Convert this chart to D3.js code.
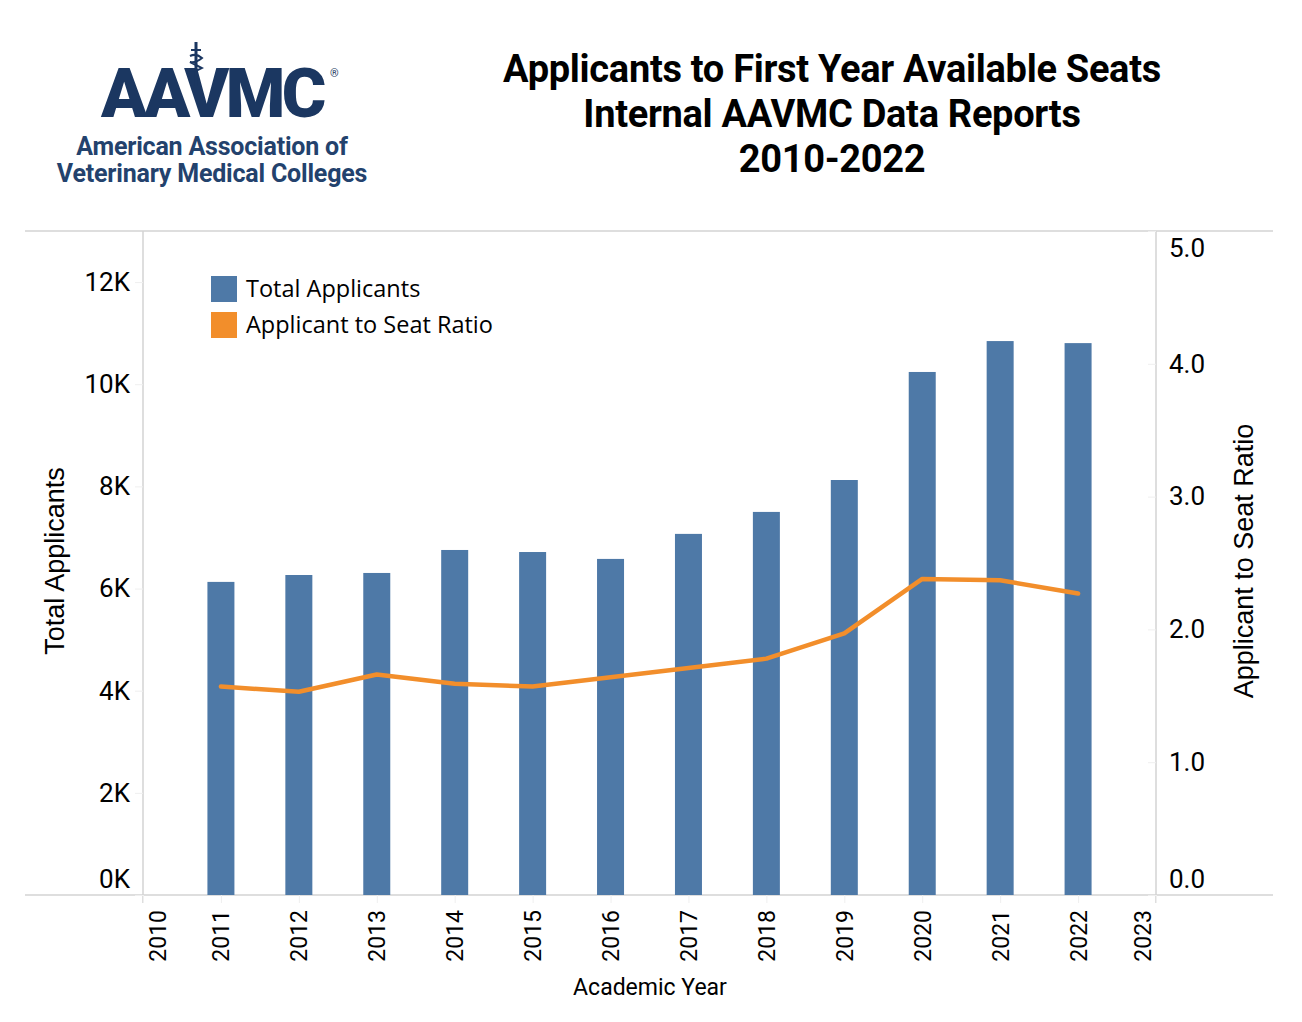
<!DOCTYPE html>
<html lang="en">
<head>
<meta charset="UTF-8">
<script src="https://d3js.org/d3.v7.min.js"></script>
<style>
  body { margin: 0; background: #fff; }
  svg { display: block; }
</style>
</head>
<body>
<div id="chart"></div>
<script>
// data
const years = [2011, 2012, 2013, 2014, 2015, 2016, 2017, 2018, 2019, 2020, 2021, 2022];
const applicants = [6130, 6265, 6305, 6755, 6715, 6580, 7070, 7500, 8125, 10240, 10845, 10805];
const seatRatio = [1.57, 1.53, 1.66, 1.59, 1.57, 1.64, 1.71, 1.78, 1.97, 2.38, 2.37, 2.27];
const leftTicks = [0, 2000, 4000, 6000, 8000, 10000, 12000];
const rightTicks = [0, 1, 2, 3, 4, 5];
const xTicks = d3.range(2010, 2024);
const titleLines = ["Applicants to First Year Available Seats", "Internal AAVMC Data Reports", "2010-2022"];

const W = 1302, H = 1022;
const plot = {left: 143, right: 1156, top: 231, bottom: 895};

const svg = d3.select("#chart").append("svg")
    .attr("width", W).attr("height", H);

// logo
const navy = "#1b3761";
const logo = svg.append("g");
logo.append("text")
    .attr("x", 212).attr("y", 117)
    .attr("text-anchor", "middle")
    .attr("font-family", "Roboto, sans-serif")
    .attr("font-weight", 900)
    .attr("font-size", 68)
    .attr("letter-spacing", -3.5)
    .attr("fill", navy)
    .text("AAVMC");
// staff of the caduceus
logo.append("line")
    .attr("x1", 196).attr("x2", 196).attr("y1", 42).attr("y2", 86)
    .attr("stroke", navy).attr("stroke-width", 3);
logo.append("path")
    .attr("d", "M191,50 h10 M190,56 q6,-3 12,2 q-6,5 -12,4 q6,3 12,6 q-6,4 -12,2")
    .attr("fill", "none").attr("stroke", navy).attr("stroke-width", 2);
logo.append("text")
    .attr("x", 330).attr("y", 77)
    .attr("font-family", "Roboto, sans-serif")
    .attr("font-size", 11).attr("fill", navy)
    .text("®");
logo.selectAll("text.sub")
    .data(["American Association of", "Veterinary Medical Colleges"])
    .enter().append("text")
    .attr("class", "sub")
    .attr("x", 212)
    .attr("y", (d, i) => 155 + i * 27)
    .attr("text-anchor", "middle")
    .attr("font-family", "Roboto, sans-serif")
    .attr("font-weight", 700)
    .attr("font-size", 25)
    .attr("letter-spacing", -0.2)
    .attr("fill", "#23426d")
    .text(d => d);

// title
svg.selectAll("text.title")
    .data(titleLines)
    .enter().append("text")
    .attr("class", "title")
    .attr("x", 832)
    .attr("y", (d, i) => 82 + i * 45)
    .attr("text-anchor", "middle")
    .attr("font-family", "Roboto, sans-serif")
    .attr("font-weight", 700)
    .attr("font-size", 38)
    .attr("letter-spacing", -0.3)
    .text(d => d);

// scales
const x = d3.scaleLinear().domain([2010, 2023]).range([plot.left, plot.right]);
const yL = d3.scaleLinear().domain([0, 13000]).range([plot.bottom, plot.top]);
const yR = d3.scaleLinear().domain([0, 5]).range([plot.bottom, plot.top]);

// frame lines
const grey = "#d3d3d3";
[plot.top, plot.bottom].forEach(yy => {
  svg.append("line")
      .attr("x1", 25).attr("x2", 1273).attr("y1", yy).attr("y2", yy)
      .attr("stroke", grey).attr("stroke-width", 1.5);
});
[plot.left, plot.right].forEach(xx => {
  svg.append("line")
      .attr("x1", xx).attr("x2", xx).attr("y1", plot.top).attr("y2", plot.bottom + 8)
      .attr("stroke", grey).attr("stroke-width", 1.5);
});

// bars
const barW = 27;
svg.selectAll(".bar")
    .data(years)
    .enter().append("rect")
    .attr("class", "bar")
    .attr("x", (d) => x(d) - barW / 2)
    .attr("y", (d, i) => yL(applicants[i]))
    .attr("width", barW)
    .attr("height", (d, i) => plot.bottom - yL(applicants[i]))
    .attr("fill", "#4e79a7");

// ratio line
const line = d3.line()
    .x(d => x(d[0]))
    .y(d => yR(d[1]));
svg.append("path")
    .datum(years.map((d, i) => [d, seatRatio[i]]))
    .attr("d", line)
    .attr("fill", "none")
    .attr("stroke", "#f28e2b")
    .attr("stroke-width", 4.5)
    .attr("stroke-linejoin", "round")
    .attr("stroke-linecap", "round");

// left axis
const gL = svg.append("g")
    .attr("transform", `translate(${plot.left},0)`)
    .call(d3.axisLeft(yL).tickValues(leftTicks).tickSize(8).tickPadding(5)
        .tickFormat(d => (d / 1000) + "K"));
gL.select(".domain").remove();
gL.selectAll(".tick line").attr("stroke", "#efefef");
gL.selectAll(".tick text")
    .attr("font-family", "Roboto, sans-serif")
    .attr("font-size", 26)
    .attr("fill", "#000")
    .attr("dy", d => d === 0 ? "-0.3em" : "0.32em");

// right axis
const gR = svg.append("g")
    .attr("transform", `translate(${plot.right},0)`)
    .call(d3.axisRight(yR).tickValues(rightTicks).tickSize(8).tickPadding(4)
        .tickFormat(d3.format(".1f")));
gR.select(".domain").remove();
gR.selectAll(".tick line").attr("stroke", "#efefef").attr("x2", -8);
gR.selectAll(".tick text")
    .attr("font-family", "Roboto, sans-serif")
    .attr("font-size", 26)
    .attr("fill", "#000")
    .attr("x", 13)
    .attr("dy", d => d === 0 ? "-0.3em" : d === 5 ? "0.98em" : "0.32em");

// x axis
const gX = svg.append("g")
    .attr("transform", `translate(0,${plot.bottom})`)
    .call(d3.axisBottom(x).tickValues(xTicks).tickSize(8).tickFormat(d3.format("d")));
gX.select(".domain").remove();
gX.selectAll(".tick line").attr("stroke", "#efefef");
gX.selectAll(".tick text")
    .attr("font-family", "Roboto, sans-serif")
    .attr("font-size", 23)
    .attr("fill", "#000")
    .attr("text-anchor", "end")
    .attr("transform", d => {
      const shift = d === 2010 ? 14 : d === 2023 ? -14 : 0;
      return `translate(${shift},0) rotate(-90)`;
    })
    .attr("x", -15).attr("y", 0).attr("dy", "0.35em");

// axis titles
svg.append("text")
    .attr("transform", `translate(64,${(465 + 657) / 2}) rotate(-90)`)
    .attr("text-anchor", "middle")
    .attr("font-family", "'Liberation Sans', Arial, sans-serif")
    .attr("font-size", 27)
    .text("Total Applicants");
svg.append("text")
    .attr("transform", `translate(1253,${(425 + 697) / 2}) rotate(-90)`)
    .attr("text-anchor", "middle")
    .attr("font-family", "'Liberation Sans', Arial, sans-serif")
    .attr("font-size", 27)
    .text("Applicant to Seat Ratio");
svg.append("text")
    .attr("x", 650).attr("y", 995)
    .attr("text-anchor", "middle")
    .attr("font-family", "Roboto, sans-serif")
    .attr("font-size", 23)
    .text("Academic Year");

// legend
const legendItems = [
  {label: "Total Applicants", color: "#4e79a7"},
  {label: "Applicant to Seat Ratio", color: "#f28e2b"}
];
const lg = svg.append("g").attr("transform", "translate(211,276)");
const li = lg.selectAll("g").data(legendItems).enter().append("g")
    .attr("transform", (d, i) => `translate(0,${i * 36})`);
li.append("rect").attr("width", 26).attr("height", 26).attr("fill", d => d.color);
li.append("text")
    .attr("x", 35).attr("y", 13).attr("dy", "0.35em")
    .attr("font-family", "'Open Sans', sans-serif")
    .attr("font-size", 23.5)
    .text(d => d.label);
</script>
</body>
</html>
